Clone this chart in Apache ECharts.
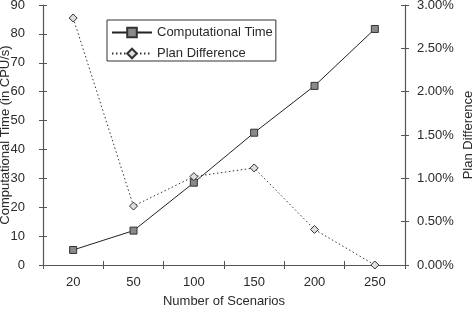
<!DOCTYPE html>
<html><head><meta charset="utf-8">
<script src="https://cdn.jsdelivr.net/npm/echarts@6/dist/echarts.min.js"></script>
<style>html,body{margin:0;padding:0;background:#fff}#c{width:474px;height:326px}</style>
</head><body><div id="c"></div>
<script>
const categories = ['20', '50', '100', '150', '200', '250'];
const compTime = [5.2, 11.9, 28.5, 45.8, 62, 81.7];
const planDiff = [2.85, 0.68, 1.02, 1.12, 0.41, 0.0];
const leftTicks = { min: 0, max: 90, interval: 10 };
const rightTicks = { min: 0, max: 3, interval: 0.5 };

const font = 'Liberation Sans, Arial, sans-serif';
const txt = '#2a2a2a';
const axisCol = '#555';
const tickOut = { show: true, length: 4, lineStyle: { color: axisCol } };
const tickIn = { show: true, inside: true, length: 4, lineStyle: { color: axisCol } };

function innerYAxis(t, pos) {
  return {
    type: 'value', min: t.min, max: t.max, interval: t.interval, position: pos,
    axisLine: { show: false }, axisTick: tickIn, axisLabel: { show: false },
    splitLine: { show: false }
  };
}

const chart = echarts.init(document.getElementById('c'));
chart.setOption({
  animation: false,
  backgroundColor: '#fff',
  textStyle: { fontFamily: font },
  grid: { left: 43, right: 69, top: 5, bottom: 61, containLabel: false, outerBoundsMode: 'none' },
  legend: {
    left: 107, top: 20, orient: 'vertical',
    borderColor: '#333', borderWidth: 1, padding: [6, 3, 1, 4],
    itemGap: 8, itemWidth: 40, itemHeight: 12,
    textStyle: { fontFamily: font, fontSize: 13, color: txt },
    data: ['Computational Time', 'Plan Difference']
  },
  xAxis: [
    {
      type: 'category', data: categories,
      name: 'Number of Scenarios', nameLocation: 'middle', nameGap: 30, nameMoveOverlap: false,
      nameTextStyle: { fontSize: 13, color: txt, fontFamily: font },
      axisLine: { lineStyle: { color: axisCol, width: 1.2 } },
      axisTick: tickOut,
      axisLabel: { fontSize: 13, color: txt, margin: 11, fontFamily: font }
    },
    {
      type: 'category', data: categories, position: 'bottom',
      axisLine: { show: false }, axisTick: tickIn, axisLabel: { show: false }
    }
  ],
  yAxis: [
    {
      type: 'value', min: leftTicks.min, max: leftTicks.max, interval: leftTicks.interval,
      name: 'Computational Time (in CPU/s)', nameLocation: 'middle', nameGap: 31, nameMoveOverlap: false,
      nameTextStyle: { fontSize: 13, color: txt, fontFamily: font },
      axisLine: { show: true, lineStyle: { color: axisCol, width: 1.2 } },
      axisTick: tickOut,
      axisLabel: { fontSize: 13, color: txt, margin: 18, fontFamily: font },
      splitLine: { show: false }
    },
    {
      type: 'value', min: rightTicks.min, max: rightTicks.max, interval: rightTicks.interval,
      position: 'right',
      name: 'Plan Difference', nameLocation: 'middle', nameGap: 57, nameRotate: 90, nameMoveOverlap: false,
      nameTextStyle: { fontSize: 13, color: txt, fontFamily: font },
      axisLine: { show: true, lineStyle: { color: axisCol, width: 1.2 } },
      axisTick: tickOut,
      axisLabel: { fontSize: 13, color: txt, margin: 12, fontFamily: font,
        formatter: v => v.toFixed(2) + '%' },
      splitLine: { show: false }
    },
    innerYAxis(leftTicks, 'left'),
    innerYAxis(rightTicks, 'right')
  ],
  series: [
    {
      name: 'Computational Time', type: 'line', yAxisIndex: 0, data: compTime,
      symbol: 'rect', symbolSize: 7,
      lineStyle: { color: '#222', width: 1 },
      itemStyle: { color: '#8a8a8a', borderColor: '#333', borderWidth: 1 }
    },
    {
      name: 'Plan Difference', type: 'line', yAxisIndex: 1, data: planDiff,
      symbol: 'diamond', symbolSize: 8,
      lineStyle: { color: '#333', width: 1, type: [1.5, 2.5] },
      itemStyle: { color: '#ddd', borderColor: '#333', borderWidth: 1 }
    }
  ]
});
</script></body></html>
